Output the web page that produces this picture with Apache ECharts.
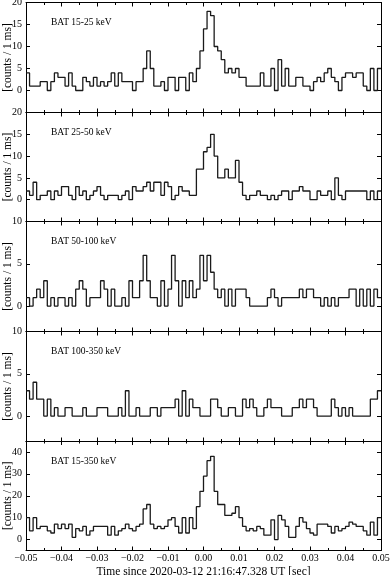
<!DOCTYPE html>
<html>
<head>
<meta charset="utf-8">
<script src="https://cdn.jsdelivr.net/npm/echarts@6/dist/echarts.min.js"></script>
<style>
html,body{margin:0;padding:0;background:#fff;}
#chart{width:390px;height:575px;}
</style>
</head>
<body>
<div id="chart"></div>
<script>
// Bin layout (1 ms bins starting at -0.05 s)
const tStart = -0.05;
const binWidth = 0.001;

// Panel labels
const bandLabels = ["BAT 15-25 keV", "BAT 25-50 keV", "BAT 50-100 keV", "BAT 100-350 keV", "BAT 15-350 keV"];

// Counts per 1 ms bin
const bat15_25 = [
  4,1,1,1,2,2,0,2,4,3,
  3,1,4,1,0,0,3,2,1,3,
  1,2,1,2,4,1,4,2,2,2,
  0,2,2,5,9,5,1,1,2,0,
  3,3,0,3,3,0,4,2,5,9,
  14,18,17,10,9,7,4,5,4,5,
  3,3,1,1,1,1,4,1,1,5,
  0,7,1,5,1,1,3,3,1,1,
  0,2,3,2,4,5,3,2,0,3,
  4,4,3,4,4,1,0,5,0,5
];
const bat25_50 = [
  2,1,4,0,1,1,2,0,2,1,
  3,3,1,0,3,1,2,0,1,2,
  3,1,0,1,1,1,0,1,2,0,
  3,2,2,3,4,2,4,4,1,4,
  3,0,1,3,2,2,1,1,7,7,
  11,12,15,10,5,5,7,5,5,9,
  4,1,0,1,1,2,1,1,0,1,
  0,1,2,2,0,2,2,3,2,2,
  0,0,2,1,1,2,0,5,1,0,
  2,2,2,2,2,2,0,2,0,2
];
const bat50_100 = [
  1,0,1,2,1,3,0,1,0,1,
  1,0,1,0,2,3,2,0,1,1,
  1,3,2,0,2,0,0,1,0,3,
  1,1,3,6,3,1,1,0,3,0,
  2,6,3,0,3,1,3,1,2,6,
  3,6,4,2,1,2,0,2,0,2,
  2,2,1,0,0,0,0,0,1,2,
  1,0,1,1,1,1,1,2,1,2,
  2,1,1,0,1,0,1,0,1,1,
  1,2,2,0,2,0,2,0,2,1
];
const bat100_350 = [
  3,2,4,2,2,0,2,0,1,0,
  0,1,1,0,0,0,1,0,0,0,
  1,1,1,0,0,0,1,0,3,0,
  0,1,0,0,0,1,1,0,1,1,
  1,1,2,0,3,0,2,1,1,0,
  0,0,2,2,1,0,0,1,1,0,
  0,2,1,2,1,0,0,1,2,1,
  1,1,0,0,0,1,1,2,1,2,
  2,1,0,0,0,0,2,1,0,1,
  0,1,0,0,0,0,0,2,2,3
];
const bat15_350 = [
  10,4,10,5,6,6,4,3,7,5,
  7,5,7,1,5,4,6,2,4,6,
  6,6,6,2,6,2,4,5,7,5,
  4,6,7,14,16,7,5,6,5,6,
  9,10,6,3,10,3,10,5,15,22,
  29,36,38,22,16,16,11,11,12,15,
  10,6,4,5,4,6,5,2,2,9,
  0,11,9,6,1,1,6,10,8,5,
  3,2,7,7,7,6,3,6,4,5,
  6,8,7,6,6,4,2,8,2,10
];

// Axis ranges and tick values
const yMins = [-5, -5, -3, -3, -5];
const yMaxs = [20, 20, 10, 10, 45];
const yTicks = [[0,5,10,15,20],[0,5,10,15,20],[0,5,10],[0,5,10],[0,10,20,30,40]];
const xTitle = "Time since 2020-03-12 21:16:47.328 UT [sec]";
const yTitle = "[counts / 1 ms]";

const panels = [bat15_25, bat25_50, bat50_100, bat100_350, bat15_350];

// Layout
const gridTops = [2.5, 112.5, 221.5, 331.5, 441];
const gridHeights = [110, 109, 110, 110, 109.5];
const FONT = '"Liberation Serif","DejaVu Serif",serif';
const INK = '#000';

function stepData(vals) {
  const d = vals.map((v, i) => [tStart + i * binWidth, v]);
  d.push([tStart + vals.length * binWidth, vals[vals.length - 1]]);
  return d;
}
function fmtX(v) {
  if (Math.abs(v) < 1e-9) return '0.00';
  return (v < 0 ? '\u2212' : '') + Math.abs(v).toFixed(2);
}

const grid = [], xAxis = [], yAxis = [], series = [], graphic = [];
panels.forEach((vals, i) => {
  grid.push({left: 26, right: 9, top: gridTops[i], height: gridHeights[i], outerBoundsMode: 'none', containLabel: false});
  const isLast = i === panels.length - 1;
  const xBase = {
    gridIndex: i, type: 'value', min: -0.05, max: 0.05, interval: 0.01,
    axisLine: {show: true, onZero: false, lineStyle: {color: INK, width: 1}},
    axisTick: {show: true, inside: true, length: 4, lineStyle: {color: INK, width: 1}},
    minorTick: {show: true, splitNumber: 2, length: 2.5, lineStyle: {color: INK, width: 1}},
    splitLine: {show: false}, minorSplitLine: {show: false}
  };
  xAxis.push(Object.assign({}, xBase, {
    position: 'bottom',
    axisLabel: {show: isLast, formatter: fmtX, color: INK, fontFamily: FONT, fontSize: 10, margin: 3},
    name: isLast ? xTitle : '', nameLocation: 'middle', nameGap: 15,
    nameTextStyle: {color: INK, fontFamily: FONT, fontSize: 11.5}
  }));
  xAxis.push(Object.assign({}, xBase, {position: 'top', axisLabel: {show: false}}));
  const yBase = {
    gridIndex: i, type: 'value', min: yMins[i], max: yMaxs[i],
    axisLine: {show: true, onZero: false, lineStyle: {color: INK, width: 1}},
    axisTick: {show: true, inside: true, length: 4, customValues: yTicks[i], lineStyle: {color: INK, width: 1}},
    splitLine: {show: false}
  };
  yAxis.push(Object.assign({}, yBase, {
    position: 'left',
    axisLabel: {show: true, customValues: yTicks[i], color: INK, fontFamily: FONT, fontSize: 10, margin: 4}
  }));
  yAxis.push(Object.assign({}, yBase, {position: 'right', axisLabel: {show: false}}));
  series.push({
    type: 'line', step: 'end', xAxisIndex: 2 * i, yAxisIndex: 2 * i,
    data: stepData(vals), showSymbol: false, symbol: 'none', clip: true,
    lineStyle: {color: '#1a1a1a', width: 1.3}, silent: true
  });
  graphic.push({
    type: 'text', x: 51, y: gridTops[i] + 20,
    style: {text: bandLabels[i], fill: INK, font: '9.5px ' + FONT, align: 'left', verticalAlign: 'middle'}
  });
  graphic.push({
    type: 'text', x: 8, y: gridTops[i] + gridHeights[i] / 2, rotation: Math.PI / 2,
    style: {text: yTitle, fill: INK, font: '11.5px ' + FONT, align: 'center', verticalAlign: 'middle'}
  });
});

const chart = echarts.init(document.getElementById('chart'), null, {renderer: 'canvas'});
chart.setOption({
  animation: false,
  backgroundColor: '#fff',
  grid, xAxis, yAxis, series, graphic
});
</script>
</body>
</html>
